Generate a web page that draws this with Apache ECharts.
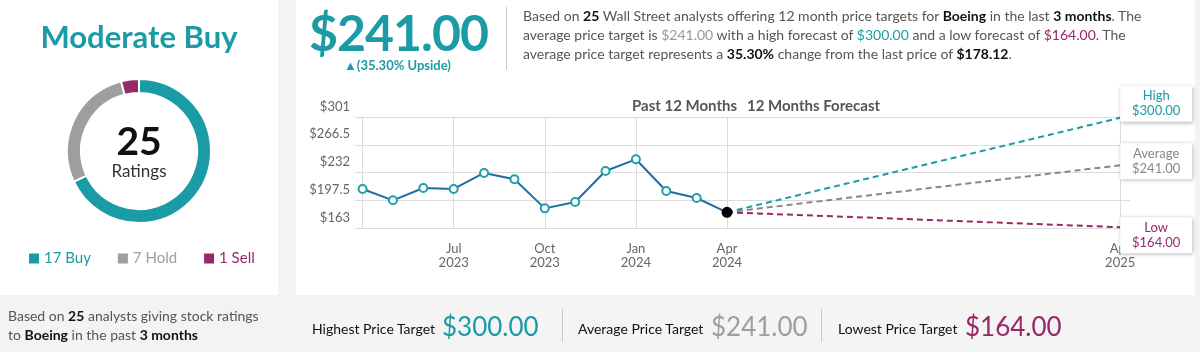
<!DOCTYPE html>
<html>
<head>
<meta charset="utf-8">
<script src="https://cdn.jsdelivr.net/npm/echarts@6/dist/echarts.min.js"></script>
<style>
    body { margin: 0; width: 1200px; height: 352px; background: #f3f3f3; font-family: Lato, "Noto Sans", sans-serif; overflow: hidden; }
    .abs { position: absolute; white-space: nowrap; }
    .panel { position: absolute; background: #fff; }
    b { color: #111; font-weight: 700; }
    #main { position: absolute; left: 0; top: 0; width: 1200px; height: 352px; z-index: 1; }
    .txt { z-index: 2; }
</style>
</head>
<body>
<!-- 背景面板 -->
<div class="panel" style="left:0;top:0;width:278px;height:295px;"></div>
<div class="panel" style="left:296px;top:0;width:899px;height:295px;"></div>
<div class="abs" style="left:296px;top:295px;width:899px;height:57px;background:#f4f4f4;"></div>

<div id="main"></div>

<!-- 左侧评级 -->
<div class="abs txt" style="left:0;width:278px;top:18px;text-align:center;font-size:31px;font-weight:700;color:#1b9ba5;line-height:36px;">Moderate Buy</div>
<div class="abs txt" style="left:0;width:278px;top:119px;text-align:center;font-size:39px;font-weight:700;color:#111;line-height:42px;">25</div>
<div class="abs txt" style="left:0;width:278px;top:161px;text-align:center;font-size:17px;color:#333;line-height:20px;">Ratings</div>
<div class="abs txt" style="left:8px;top:306px;font-size:14px;color:#555;line-height:19px;">Based on <b>25</b> analysts giving stock ratings<br>to <b>Boeing</b> in the past <b>3 months</b></div>

<!-- 顶部价格 -->
<div class="abs txt" style="left:309px;top:3px;font-size:50px;font-weight:700;color:#1b9ba5;line-height:58px;letter-spacing:-1px;">$241.00</div>
<div class="abs txt" style="left:344px;top:57px;font-size:13px;font-weight:700;color:#1b9ba5;line-height:16px;">&#9650;(35.30% Upside)</div>
<div class="abs txt" style="left:506px;top:7px;width:1px;height:63px;background:#c8c8c8;"></div>
<div class="abs txt" style="left:523px;top:6px;font-size:14px;color:#555;line-height:19px;">
Based on <b>25</b> Wall Street analysts offering 12 month price targets for <b>Boeing</b> in the last <b>3 months</b>. The<br>
average price target is <span style="color:#999">$241.00</span> with a high forecast of <span style="color:#1b9ba5">$300.00</span> and a low forecast of <span style="color:#97286a">$164.00</span>. The<br>
average price target represents a <b>35.30%</b> change from the last price of <b>$178.12</b>.</div>

<div class="abs txt" style="left:632px;top:96px;font-size:15px;font-weight:700;color:#555;line-height:19px;">Past 12 Months</div>
<div class="abs txt" style="left:747px;top:96px;font-size:15px;font-weight:700;color:#555;line-height:19px;">12 Months Forecast</div>

<!-- 底部目标价 -->
<div class="abs txt" style="left:312px;top:320px;font-size:14px;color:#111;line-height:18px;">Highest Price Target</div>
<div class="abs txt" style="left:442px;top:310px;font-size:26px;color:#1b9ba5;line-height:32px;">$300.00</div>
<div class="abs txt" style="left:562px;top:309px;width:1px;height:33px;background:#c8c8c8;"></div>
<div class="abs txt" style="left:578px;top:320px;font-size:14px;color:#111;line-height:18px;">Average Price Target</div>
<div class="abs txt" style="left:711px;top:310px;font-size:26px;color:#9e9e9e;line-height:32px;">$241.00</div>
<div class="abs txt" style="left:821px;top:309px;width:1px;height:33px;background:#c8c8c8;"></div>
<div class="abs txt" style="left:838px;top:320px;font-size:14px;color:#111;line-height:18px;">Lowest Price Target</div>
<div class="abs txt" style="left:965px;top:310px;font-size:26px;color:#97286a;line-height:32px;">$164.00</div>

<script>
// 数据
var ratingNames = ['Buy', 'Hold', 'Sell'];
var ratingCounts = [17, 7, 1];
var ratingColors = ['#1b9ba5', '#9e9e9e', '#97286a'];

var months = ['Apr 2023', 'May 2023', 'Jun 2023', 'Jul 2023', 'Aug 2023', 'Sep 2023', 'Oct 2023',
    'Nov 2023', 'Dec 2023', 'Jan 2024', 'Feb 2024', 'Mar 2024', 'Apr 2024'];
var pastPrices = [211.5, 197.4, 212.7, 211.5, 231.4, 223.5, 187.4, 195.3, 233.9, 248.4, 209.0, 200.3, 182.5];
var xTickIndex = [3, 6, 9, 12];
var xTickLabels = ['Jul\n2023', 'Oct\n2023', 'Jan\n2024', 'Apr\n2024'];
var yTicks = [163, 197.5, 232, 266.5, 301];
var forecastNames = ['High', 'Average', 'Low'];
var forecastValues = [300, 241, 164];
var forecastColors = ['#1b9ba5', '#888888', '#97286a'];
var forecastOffsets = [-14, -4, 8];

var myChart = echarts.init(document.getElementById('main'));

var pastData = [];
for (var i = 0; i < pastPrices.length; i++) {
    pastData.push([i, pastPrices[i]]);
}
var last = pastPrices[pastPrices.length - 1];
pastData[pastData.length - 1] = {
    value: [pastPrices.length - 1, last],
    symbolSize: 9,
    itemStyle: { color: '#000', borderColor: '#000' }
};

var series = [
    {
        type: 'pie',
        center: [139, 151],
        radius: [58, 72],
        startAngle: 90,
        silent: true,
        label: { show: false },
        itemStyle: { borderColor: '#fff', borderWidth: 2 },
        data: ratingNames.map(function (n, i) {
            return { name: n, value: ratingCounts[i], itemStyle: { color: ratingColors[i] } };
        })
    },
    {
        name: 'Past',
        type: 'line',
        xAxisIndex: 0,
        yAxisIndex: 0,
        symbol: 'circle',
        symbolSize: 8,
        z: 5,
        lineStyle: { color: '#1c6ea9', width: 2 },
        itemStyle: { color: '#fff', borderColor: '#1fa0a8', borderWidth: 2 },
        data: pastData
    }
];

for (var k = 0; k < forecastNames.length; k++) {
    series.push({
        name: forecastNames[k],
        type: 'line',
        xAxisIndex: 1,
        yAxisIndex: 1,
        symbol: 'none',
        lineStyle: { color: forecastColors[k], width: 2, type: [6, 4] },
        endLabel: {
            show: true,
            distance: 0,
            offset: [0, forecastOffsets[k]],
            backgroundColor: '#fff',
            padding: [3, 8, 3, 8],
            shadowColor: 'rgba(0,0,0,0.3)',
            shadowBlur: 4,
            shadowOffsetX: 1,
            shadowOffsetY: 1,
            formatter: '{t|' + forecastNames[k] + '}\n{t|$' + forecastValues[k].toFixed(2) + '}',
            rich: {
                t: { width: 56, align: 'center', color: forecastColors[k], fontSize: 13, lineHeight: 15, fontFamily: 'Lato' }
            }
        },
        data: [[0, last], [12, forecastValues[k]]]
    });
}

var option = {
    animation: false,
    textStyle: { fontFamily: 'Lato' },
    legend: {
        left: 22,
        top: 246,
        icon: 'rect',
        itemWidth: 12,
        itemHeight: 12,
        itemGap: 25,
        selectedMode: false,
        formatter: function (name) {
            return ratingCounts[ratingNames.indexOf(name)] + ' ' + name;
        },
        textStyle: { fontSize: 15, padding: [0, 0, 0, -1] },
        data: ratingNames.map(function (n, i) {
            return { name: n, textStyle: { color: ratingColors[i] } };
        })
    },
    grid: [
        { left: 355, top: 117, width: 372, height: 111 },
        { left: 727, top: 117, width: 403, height: 111 }
    ],
    xAxis: [
        {
            type: 'value', gridIndex: 0, min: -0.25, max: 12,
            axisLine: { show: false },
            axisTick: { show: false, customValues: xTickIndex },
            splitLine: { show: true, lineStyle: { color: '#dcdcdc' } },
            axisLabel: {
                customValues: xTickIndex,
                margin: 14,
                color: '#666', fontSize: 13, lineHeight: 14,
                formatter: function (v) { return xTickLabels[xTickIndex.indexOf(v)]; }
            }
        },
        {
            type: 'value', gridIndex: 1, min: 0, max: 12.3,
            axisLine: { show: false },
            axisTick: { show: false, customValues: [12] },
            splitLine: { show: true, lineStyle: { color: '#dcdcdc' } },
            axisLabel: {
                customValues: [12],
                margin: 14,
                color: '#666', fontSize: 13, lineHeight: 14,
                formatter: function () { return 'Apr\n2025'; }
            }
        }
    ],
    yAxis: [
        {
            type: 'value', gridIndex: 0, min: 163, max: 301,
            axisLine: { show: true, lineStyle: { color: '#dcdcdc' } },
            axisTick: { show: false, customValues: yTicks },
            splitLine: { show: true, lineStyle: { color: '#dcdcdc' } },
            axisLabel: {
                customValues: yTicks,
                margin: 5,
                verticalAlign: 'bottom',
                padding: [0, 0, 4, 0],
                color: '#666', fontSize: 13,
                formatter: function (v) { return '$' + v; }
            }
        },
        {
            type: 'value', gridIndex: 1, min: 163, max: 301,
            axisLine: { show: false },
            axisTick: { show: false, customValues: yTicks },
            splitLine: { show: true, lineStyle: { color: '#dcdcdc' } },
            axisLabel: { show: false, customValues: yTicks }
        }
    ],
    series: series
};

myChart.setOption(option);
</script>
</body>
</html>
